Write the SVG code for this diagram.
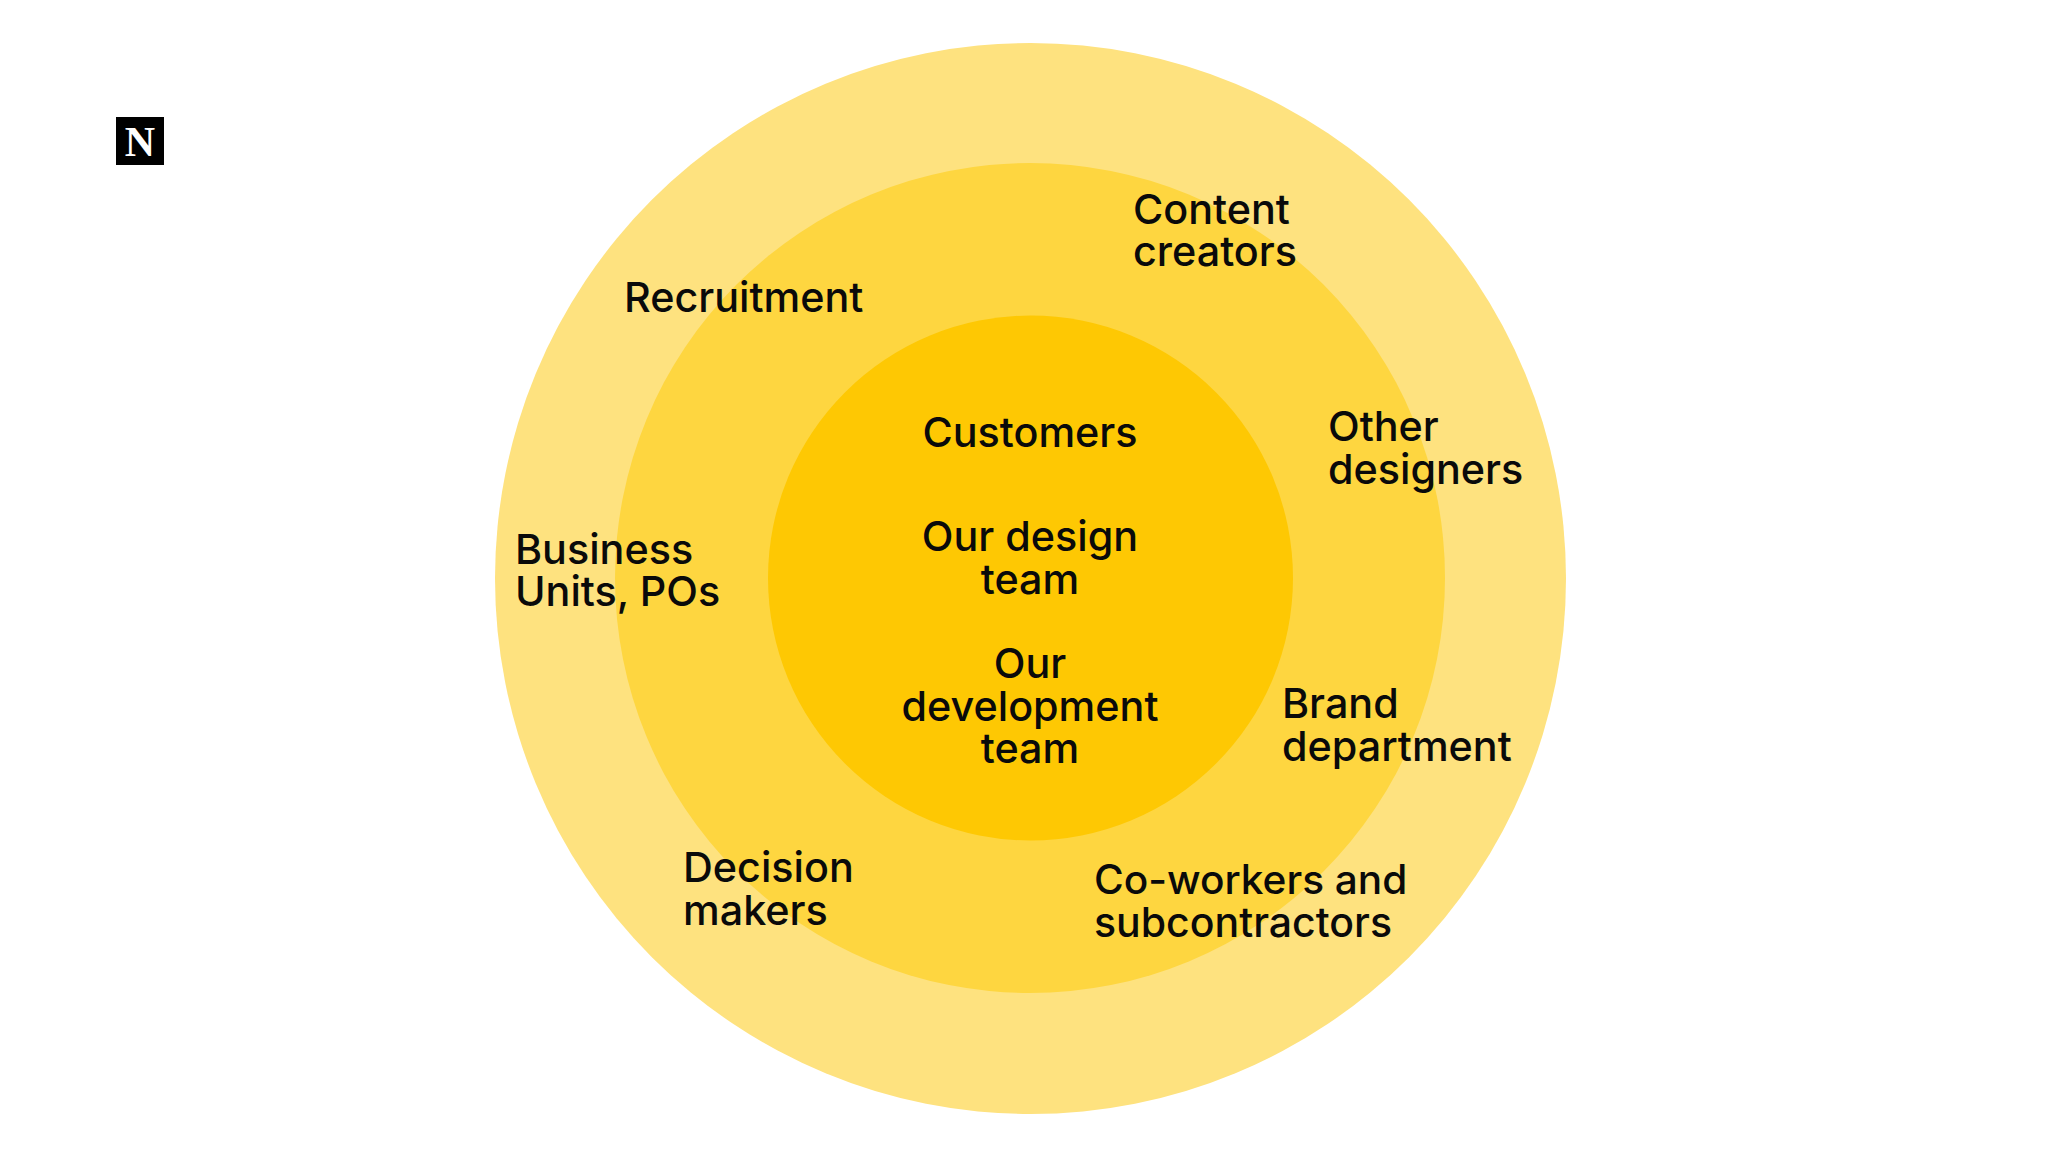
<svg xmlns="http://www.w3.org/2000/svg" width="2048" height="1152" viewBox="0 0 2048 1152">
<style>
.l{font-family:"Inter","Liberation Sans",sans-serif;font-weight:500;font-size:41.3px;fill:#0a0a0a}
.c{text-anchor:middle}
</style>
<rect width="2048" height="1152" fill="#ffffff"/>
<g id="ring-outer"><circle cx="1030.5" cy="578.5" r="535.5" fill="#fee27f"/></g>
<g id="ring-middle"><circle cx="1030" cy="578" r="415" fill="#fed640"/></g>
<g id="ring-inner"><circle cx="1030.5" cy="578" r="262.5" fill="#fec803"/></g>
<g id="logo"><rect x="116" y="117" width="48" height="48" fill="#000"/><text x="140" y="156" text-anchor="middle" font-family="Liberation Serif,serif" font-weight="700" font-size="42" fill="#fff">N</text></g>
<g id="customers"><text class="l c" x="1030" y="447">Customers</text></g>
<g id="design-team"><text class="l c" x="1030" y="551"><tspan x="1030">Our design</tspan><tspan x="1030" y="594">team</tspan></text></g>
<g id="dev-team"><text class="l c" x="1030" y="678"><tspan x="1030">Our</tspan><tspan x="1030" y="721">development</tspan><tspan x="1030" y="763">team</tspan></text></g>
<g id="content-creators"><text class="l" x="1133" y="224"><tspan x="1133">Content</tspan><tspan x="1133" y="266">creators</tspan></text></g>
<g id="recruitment"><text class="l" x="624" y="312">Recruitment</text></g>
<g id="other-designers"><text class="l" x="1328" y="441"><tspan x="1328">Other</tspan><tspan x="1328" y="484">designers</tspan></text></g>
<g id="business-units"><text class="l" x="515" y="564"><tspan x="515">Business</tspan><tspan x="515" y="606">Units, POs</tspan></text></g>
<g id="brand"><text class="l" x="1282" y="718"><tspan x="1282">Brand</tspan><tspan x="1282" y="761">department</tspan></text></g>
<g id="decision-makers"><text class="l" x="683" y="882"><tspan x="683">Decision</tspan><tspan x="683" y="925">makers</tspan></text></g>
<g id="coworkers"><text class="l" x="1094" y="894" style="font-size:40.6px"><tspan x="1094">Co-workers and</tspan><tspan x="1094" y="937" style="font-size:41px">subcontractors</tspan></text></g>
<g id="connectors"></g>
</svg>
